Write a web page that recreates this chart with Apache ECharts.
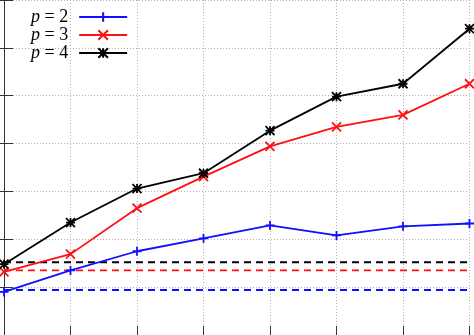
<!DOCTYPE html>
<html lang="en">
<head>
    <meta charset="UTF-8" />
    <title>Document</title>
    <style>
        body {
            margin: 0;
            padding: 0;
            background: #fff;
        }
        .chart {
            width: 474px;
            height: 335px;
        }
    </style>
</head>
<body>
<div class="chart"></div>
<script src="https://cdn.jsdelivr.net/npm/echarts@6/dist/echarts.min.js"></script>
<script>
    // x positions (no labels visible in the crop)
    const xs = [0, 1, 2, 3, 4, 5, 6, 7];
    const p2 = [0.90, 1.35, 1.75, 2.02, 2.29, 2.08, 2.27, 2.33];
    const p3 = [1.32, 1.69, 2.65, 3.31, 3.94, 4.35, 4.60, 5.25];
    const p4 = [1.48, 2.35, 3.06, 3.38, 4.27, 4.98, 5.25, 6.40];
    // horizontal dashed reference levels
    const ref2 = 0.94;
    const ref3 = 1.35;
    const ref4 = 1.52;

    const blue = '#1010ff';
    const red = '#ff1010';
    const black = '#000000';

    const plus = 'path://M5,0L5,10M0,5L10,5';
    const cross = 'path://M0,0L10,10M10,0L0,10';
    const star = 'path://M5,0L5,10M0,5L10,5M0,0L10,10M10,0L0,10';

    function pts(ys) {
        return xs.map((x, i) => [x, ys[i]]);
    }
    function mainSeries(name, ys, color, sym) {
        return {
            name: name,
            type: 'line',
            data: pts(ys),
            symbol: sym,
            symbolSize: 9,
            showSymbol: true,
            lineStyle: { color: color, width: 1.8 },
            itemStyle: { color: color, borderColor: color, borderWidth: 1.8 },
            animation: false,
            z: 5
        };
    }
    function refSeries(v, color) {
        return {
            type: 'line',
            data: [[xs[0], v], [xs[xs.length - 1], v]],
            symbol: 'none',
            lineStyle: { color: color, width: 1.8, type: [7, 5] },
            animation: false,
            silent: true,
            z: 4
        };
    }

    const container = document.querySelector('.chart');
    const instance = echarts.init(container);
    const axisLine = { show: true, lineStyle: { color: '#333', width: 1 } };
    const tick = { show: true, inside: true, length: 9, lineStyle: { color: '#333' } };
    const grid = { show: true, lineStyle: { color: '#b0b0b0', type: [1, 2], width: 1 } };
    const option = {
        backgroundColor: '#fff',
        grid: { left: 4, right: 4.5, top: 0, height: 336 },
        legend: {
            orient: 'vertical',
            left: 26,
            top: 3,
            align: 'right',
            itemWidth: 48,
            itemHeight: 12,
            itemGap: 0,
            data: ['p2', 'p3', 'p4'],
            formatter: function (n) {
                return '{i|p} = ' + n.slice(1);
            },
            textStyle: {
                fontFamily: 'Liberation Serif',
                fontSize: 18,
                color: '#000',
                lineHeight: 18,
                padding: [0, 6, 0, 0],
                rich: {
                    i: { fontFamily: 'Liberation Serif', fontStyle: 'italic', fontSize: 18, lineHeight: 18 }
                }
            }
        },
        xAxis: [
            {
                type: 'value', min: 0, max: 7, interval: 1,
                axisLine: axisLine, axisTick: tick, axisLabel: { show: false }, splitLine: grid
            },
            {
                type: 'value', position: 'top', min: 0, max: 7, interval: 1,
                axisLine: axisLine, axisTick: tick, axisLabel: { show: false }, splitLine: { show: false }
            }
        ],
        yAxis: [
            {
                type: 'value', min: 0, max: 7, interval: 1,
                axisLine: axisLine, axisTick: tick, axisLabel: { show: false }, splitLine: grid
            },
            {
                type: 'value', position: 'right', min: 0, max: 7, interval: 1,
                axisLine: axisLine, axisTick: tick, axisLabel: { show: false }, splitLine: { show: false }
            }
        ],
        series: [
            refSeries(ref4, black),
            refSeries(ref3, red),
            refSeries(ref2, blue),
            mainSeries('p2', p2, blue, plus),
            mainSeries('p3', p3, red, cross),
            mainSeries('p4', p4, black, star)
        ]
    };
    instance.setOption(option);
</script>
</body>
</html>
